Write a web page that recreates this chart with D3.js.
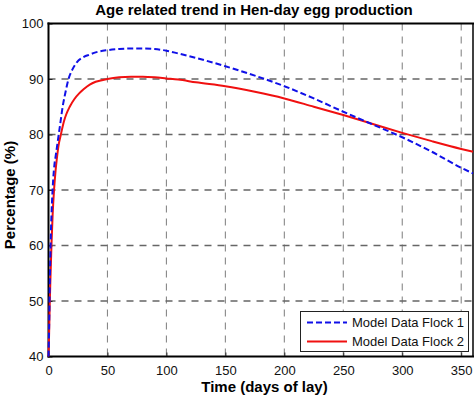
<!DOCTYPE html>
<html><head><meta charset="utf-8">
<script src="https://cdn.jsdelivr.net/npm/d3@7/dist/d3.min.js"></script>
<style>html,body{margin:0;padding:0;background:#fff;}svg{display:block;font-family:"Liberation Sans",Arial,sans-serif;}</style>
</head><body>
<svg id="c" width="474" height="395"></svg>
<script>
const xTicks = [0,50,100,150,200,250,300,350];
const yTicks = [40,50,60,70,80,90,100];
const seriesNames = ["Model Data Flock 1","Model Data Flock 2"];
const days1 = [0,0.5,1,2,3,4,5,6,8,10,12,14,17,20,24,30,35,40,50,60,70,80,90,100,110,125,150,175,200,225,250,275,300,325,350,360];
const flock1 = [40,45,52,62,68,72,74.5,76,79,82,85,87.2,90,91.6,93,94,94.4,94.8,95.2,95.4,95.5,95.5,95.4,95.1,94.6,93.8,92.3,90.6,88.7,86.5,84.1,81.8,79.5,76.9,74.0,73.0];
const days2 = [0,0.5,1,1.5,2.5,3.5,4.7,6,7,8.5,10.5,13,15,18,22,26,30,35,40,50,60,70,80,90,100,110,125,150,175,200,225,250,275,300,325,350,360];
const flock2 = [40,44,49,53,60,65.5,70,73.5,75.5,78,80,82.3,83.6,85,86.4,87.4,88.2,89,89.5,90,90.3,90.4,90.4,90.3,90.1,89.9,89.4,88.7,87.7,86.5,85.0,83.5,81.9,80.3,78.8,77.4,76.9];

const svg = d3.select("#c");
const L=48.5, R=473, T=23.5, B=356.5;
const x = d3.scaleLinear().domain([0,360]).range([L,R]);
const y = d3.scaleLinear().domain([40,100]).range([B,T]);

// grid
svg.append("g").selectAll("line").data(xTicks.filter(d=>d>0)).join("line")
  .attr("x1",d=>x(d)).attr("x2",d=>x(d)).attr("y1",T).attr("y2",B)
  .attr("stroke","#888").attr("stroke-width",1.1).attr("stroke-dasharray","7,6");
svg.append("g").selectAll("line").data(yTicks.filter(d=>d>40&&d<100)).join("line")
  .attr("x1",L).attr("x2",R).attr("y1",d=>y(d)).attr("y2",d=>y(d))
  .attr("stroke","#666").attr("stroke-width",1.4).attr("stroke-dasharray","7,6");

// axes
const xa = svg.append("g").attr("transform",`translate(0,${B})`)
  .call(d3.axisBottom(x).tickValues(xTicks).tickSize(-4).tickPadding(9));
const ya = svg.append("g").attr("transform",`translate(${L},0)`)
  .call(d3.axisLeft(y).tickValues(yTicks).tickSize(-4).tickPadding(5));
[xa,ya].forEach(a=>{
  a.select(".domain").remove();
  a.selectAll("text").attr("font-size",13).attr("fill","#111").attr("font-family","Liberation Sans, Arial, sans-serif");
  a.selectAll(".tick line").attr("stroke","#222");
});
// frame
svg.append("line").attr("x1",L).attr("x2",L).attr("y1",T-1).attr("y2",B+1).attr("stroke","#000").attr("stroke-width",2);
svg.append("line").attr("x1",L-1).attr("x2",474).attr("y1",B).attr("y2",B).attr("stroke","#000").attr("stroke-width",2);
svg.append("line").attr("x1",L-1).attr("x2",474).attr("y1",T).attr("y2",T).attr("stroke","#000").attr("stroke-width",2);
svg.append("line").attr("x1",R).attr("x2",R).attr("y1",T).attr("y2",B).attr("stroke","#000").attr("stroke-width",1.5);

// lines
const line = d3.line().x(d=>x(d[0])).y(d=>y(d[1])).curve(d3.curveMonotoneX);
svg.append("path").datum(days2.map((d,i)=>[d,flock2[i]])).attr("d",line)
  .attr("fill","none").attr("stroke","#f01010").attr("stroke-width",2);
svg.append("path").datum(days1.map((d,i)=>[d,flock1[i]])).attr("d",line)
  .attr("fill","none").attr("stroke","#1010e8").attr("stroke-width",2).attr("stroke-dasharray","6,3");

// legend
const lg = svg.append("g");
lg.append("rect").attr("x",300.5).attr("y",311.5).attr("width",168).attr("height",40)
  .attr("fill","#fff").attr("stroke","#222").attr("stroke-width",1);
const rows=[{c:"#1010e8",dash:"6,3"},{c:"#f01010",dash:null}];
rows.forEach((r,i)=>{
  const yy = 322.5 + i*19;
  lg.append("line").attr("x1",307).attr("x2",347).attr("y1",yy).attr("y2",yy)
    .attr("stroke",r.c).attr("stroke-width",2).attr("stroke-dasharray",r.dash);
  lg.append("text").attr("x",352).attr("y",yy).attr("dy","0.35em").attr("font-size",13).attr("fill","#111").text(seriesNames[i]);
});

// titles
svg.append("text").attr("x",254).attr("y",15).attr("text-anchor","middle").attr("font-size",15).attr("font-weight","bold").text("Age related trend in Hen-day egg production");
svg.append("text").attr("x",264.5).attr("y",392).attr("text-anchor","middle").attr("font-size",15).attr("font-weight","bold").text("Time (days of lay)");
svg.append("text").attr("transform","translate(15,195) rotate(-90)").attr("text-anchor","middle").attr("font-size",15).attr("font-weight","bold").text("Percentage (%)");
</script>
</body></html>
